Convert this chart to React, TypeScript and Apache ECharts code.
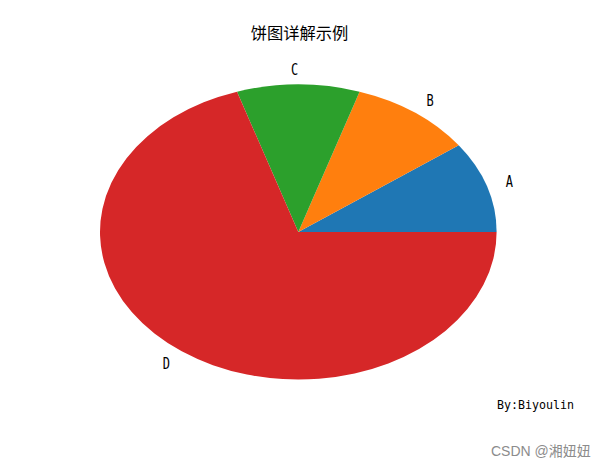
import React, { useEffect, useRef } from "react";
import * as echarts from "echarts";

const categories = ["A", "B", "C", "D"];
const values = [10, 10, 10, 70];
const colors = ["#1f77b4", "#ff7f0e", "#2ca02c", "#d62728"];
const titleText = "饼图详解示例";
const authorText = "By:Biyoulin";
const watermarkText = "CSDN @湘妞妞";

export default function App() {
  const ref = useRef<HTMLDivElement>(null);
  useEffect(() => {
    document.body.style.margin = "0";
    const chart = echarts.init(ref.current!, null, { renderer: "svg" });
    const total = values.reduce((a, b) => a + b, 0);
    const cx = 298.3;
    const cy = 232;
    const rx = 198.3;
    const ry = 147.5;
    const option: any = {
      animation: false,
      backgroundColor: "#ffffff",
      graphic: [
        {
          type: "text",
          x: 299.5,
          y: 32,
          style: {
            text: titleText,
            fontFamily: "Noto Sans CJK SC",
            fontSize: 16.3,
            fill: "#000",
            align: "center",
            verticalAlign: "middle",
          },
        },
        {
          type: "text",
          x: 497,
          y: 405,
          scaleX: 0.97,
          style: {
            text: authorText,
            fontFamily: "DejaVu Sans Mono",
            fontSize: 12,
            fill: "#000",
            align: "left",
            verticalAlign: "middle",
          },
        },
        {
          type: "text",
          x: 491,
          y: 451,
          style: {
            text: watermarkText,
            fontFamily: "Liberation Sans, Noto Sans CJK SC",
            fontSize: 14,
            fill: "#8c8c8c",
            align: "left",
            verticalAlign: "middle",
          },
        },
      ],
      series: [
        {
          type: "custom",
          coordinateSystem: "none",
          data: values.map((v, i) => ({ value: [v], name: categories[i] })),
          renderItem: (params: any, api: any) => {
            const i = params.dataIndex;
            let before = 0;
            for (let k = 0; k < i; k++) before += values[k];
            const v = api.value(0);
            const a0 = (before / total) * Math.PI * 2;
            const a1 = ((before + v) / total) * Math.PI * 2;
            const mid = (a0 + a1) / 2;
            const c = Math.cos(mid);
            const s = Math.sin(mid);
            const lx = cx + 1.1 * rx * c;
            const ly = cy - 1.1 * ry * s;
            return {
              type: "group",
              children: [
                {
                  type: "sector",
                  x: cx,
                  y: cy,
                  scaleY: ry / rx,
                  shape: {
                    cx: 0,
                    cy: 0,
                    r0: 0,
                    r: rx,
                    startAngle: -a1,
                    endAngle: -a0,
                    clockwise: true,
                  },
                  style: { fill: colors[i % colors.length] },
                },
                {
                  type: "text",
                  x: lx,
                  y: ly,
                  scaleX: 0.8,
                  style: {
                    text: categories[i],
                    fontFamily: "DejaVu Sans Mono",
                    fontSize: 15,
                    fill: "#000",
                    align: c > 1e-9 ? "left" : "right",
                    verticalAlign: "middle",
                  },
                },
              ],
            };
          },
        },
      ],
    };
    chart.setOption(option);
    return () => chart.dispose();
  }, []);
  return <div ref={ref} style={{ width: 606, height: 467 }} />;
}
